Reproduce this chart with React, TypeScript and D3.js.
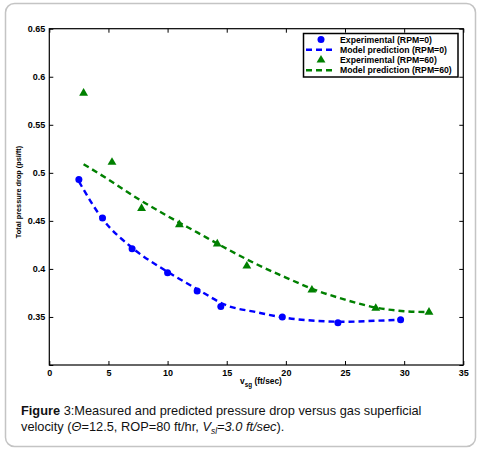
import React, { useEffect, useRef } from 'react';
import * as d3 from 'd3';

// gas superficial velocity (ft/sec) vs total pressure drop (psi/ft)
const vsgExp0 = [2.5, 4.5, 7.0, 10.0, 12.5, 14.5, 19.7, 24.4, 29.7];
const dpExp0 = [0.493, 0.453, 0.421, 0.396, 0.377, 0.361, 0.350, 0.344, 0.347];

const vsgModel0 = [2.5, 4.5, 7, 10, 12.5, 15, 17.5, 20, 22.5, 25, 27.5, 29.7];
const dpModel0 = [0.491, 0.452, 0.422, 0.397, 0.379, 0.362, 0.355, 0.349, 0.346, 0.345, 0.346, 0.347];

const vsgExp60 = [2.9, 5.3, 7.8, 11.0, 14.2, 16.7, 22.2, 27.6, 32.1];
const dpExp60 = [0.583, 0.511, 0.463, 0.446, 0.426, 0.403, 0.378, 0.359, 0.355];

const vsgModel60 = [2.9, 5, 7.5, 10, 12.5, 15, 17.5, 20, 22.5, 25, 27.5, 30, 32.1];
const dpModel60 = [0.509, 0.493, 0.473, 0.455, 0.438, 0.421, 0.405, 0.391, 0.378, 0.368, 0.36, 0.356, 0.355];

const xTicks = [0, 5, 10, 15, 20, 25, 30, 35];
const yTicks = [0.35, 0.4, 0.45, 0.5, 0.55, 0.6, 0.65];
const yTicksAll = [0.3, 0.35, 0.4, 0.45, 0.5, 0.55, 0.6, 0.65];

const legendLabels = [
  'Experimental (RPM=0)',
  'Model prediction (RPM=0)',
  'Experimental (RPM=60)',
  'Model prediction (RPM=60)',
];

const BLUE = '#0000ff';
const GREEN = '#008000';
const FONT = '"Liberation Sans", Arial, Helvetica, sans-serif';

const W = 481;
const H = 458;

const App: React.FC = () => {
  const svgRef = useRef<SVGSVGElement>(null);

  useEffect(() => {
    if (!svgRef.current) return;
    const svg = d3.select(svgRef.current);
    svg.selectAll('*').remove();

    // page frame
    svg.append('rect')
      .attr('x', 5.5).attr('y', 3.5)
      .attr('width', 470).attr('height', 443)
      .attr('rx', 9)
      .attr('fill', '#fff')
      .attr('stroke', '#c4c4c4')
      .attr('stroke-width', 1.5);

    const left = 49.3, right = 463.3, top = 28.7, bottom = 365;
    const x = d3.scaleLinear().domain([0, 35]).range([left, right]);
    const y = d3.scaleLinear().domain([0.3, 0.65]).range([bottom, top]);

    const g = svg.append('g');

    // axes (Matlab style: inward ticks on all sides)
    const axB = g.append('g')
      .attr('transform', `translate(0,${bottom})`)
      .call(d3.axisBottom(x).tickValues(xTicks).tickSizeInner(-4).tickSizeOuter(0).tickPadding(5).tickFormat(d => String(d)));
    const axL = g.append('g')
      .attr('transform', `translate(${left},0)`)
      .call(d3.axisLeft(y).tickValues(yTicksAll).tickSizeInner(-4).tickSizeOuter(0).tickPadding(4)
        .tickFormat(d => (yTicks.includes(+d) ? String(+(+d).toFixed(2)) : '')));
    const axT = g.append('g')
      .attr('transform', `translate(0,${top})`)
      .call(d3.axisTop(x).tickValues(xTicks).tickSizeInner(-4).tickSizeOuter(0).tickFormat(() => ''));
    const axR = g.append('g')
      .attr('transform', `translate(${right},0)`)
      .call(d3.axisRight(y).tickValues(yTicksAll).tickSizeInner(-4).tickSizeOuter(0).tickFormat(() => ''));

    [axB, axL, axT, axR].forEach(a => {
      a.select('.domain').remove();
      a.selectAll('line').attr('stroke', '#000').attr('stroke-width', 1);
      a.selectAll('text')
        .attr('fill', '#000')
        .style('font-family', FONT)
        .style('font-weight', 'bold')
        .style('font-size', '9px');
    });

    g.append('rect')
      .attr('x', left).attr('y', top)
      .attr('width', right - left).attr('height', bottom - top)
      .attr('fill', 'none')
      .attr('stroke', '#000')
      .attr('stroke-width', 1.2);

    // axis titles
    const xt = svg.append('text')
      .attr('x', 261).attr('y', 384)
      .attr('text-anchor', 'middle')
      .style('font-family', FONT).style('font-weight', 'bold').style('font-size', '8.4px');
    xt.append('tspan').text('v');
    xt.append('tspan').attr('dy', 2.5).style('font-size', '6.3px').text('sg');
    xt.append('tspan').attr('dy', -2.5).text(' (ft/sec)');

    svg.append('text')
      .attr('transform', `translate(20.5,192) rotate(-90)`)
      .attr('text-anchor', 'middle')
      .style('font-family', FONT).style('font-weight', 'bold').style('font-size', '7.3px')
      .text('Total pressure drop (psi/ft)');

    // model lines
    const line = d3.line<[number, number]>()
      .x(d => x(d[0]))
      .y(d => y(d[1]))
      .curve(d3.curveMonotoneX);

    const model0 = vsgModel0.map((v, i) => [v, dpModel0[i]] as [number, number]);
    const model60 = vsgModel60.map((v, i) => [v, dpModel60[i]] as [number, number]);

    g.append('path').datum(model60)
      .attr('fill', 'none').attr('stroke', GREEN).attr('stroke-width', 2.4)
      .attr('stroke-dasharray', '6,4').attr('d', line);
    g.append('path').datum(model0)
      .attr('fill', 'none').attr('stroke', BLUE).attr('stroke-width', 2.4)
      .attr('stroke-dasharray', '6,4').attr('d', line);

    // markers
    const tri = d3.symbol().type(d3.symbolTriangle).size(34);
    g.selectAll('.exp60')
      .data(vsgExp60.map((v, i) => [v, dpExp60[i]]))
      .join('path')
      .attr('class', 'exp60')
      .attr('transform', d => `translate(${x(d[0])},${y(d[1])})`)
      .attr('d', tri)
      .attr('fill', GREEN);

    g.selectAll('.exp0')
      .data(vsgExp0.map((v, i) => [v, dpExp0[i]]))
      .join('circle')
      .attr('class', 'exp0')
      .attr('cx', d => x(d[0]))
      .attr('cy', d => y(d[1]))
      .attr('r', 3.5)
      .attr('fill', BLUE);

    // legend
    const lg = svg.append('g');
    lg.append('rect')
      .attr('x', 303.5).attr('y', 33.5)
      .attr('width', 154.5).attr('height', 43.5)
      .attr('fill', '#fff')
      .attr('stroke', '#000')
      .attr('stroke-width', 1.5);
    const rowsY = [39.5, 49.8, 60, 70.2];
    const sx0 = 306, sx1 = 336, sxm = 321;
    lg.append('circle').attr('cx', sxm).attr('cy', rowsY[0]).attr('r', 3.5).attr('fill', BLUE);
    lg.append('line').attr('x1', sx0).attr('x2', sx1).attr('y1', rowsY[1]).attr('y2', rowsY[1])
      .attr('stroke', BLUE).attr('stroke-width', 2.4).attr('stroke-dasharray', '6,4');
    lg.append('path').attr('d', tri).attr('transform', `translate(${sxm},${rowsY[2]})`).attr('fill', GREEN);
    lg.append('line').attr('x1', sx0).attr('x2', sx1).attr('y1', rowsY[3]).attr('y2', rowsY[3])
      .attr('stroke', GREEN).attr('stroke-width', 2.4).attr('stroke-dasharray', '6,4');
    lg.selectAll('.lt')
      .data(legendLabels)
      .join('text')
      .attr('class', 'lt')
      .attr('x', 340)
      .attr('y', (d, i) => rowsY[i])
      .attr('dy', '0.35em')
      .style('font-family', FONT).style('font-weight', 'bold').style('font-size', '8.7px')
      .text(d => d);

    // caption
    const c1 = svg.append('text')
      .attr('x', 21).attr('y', 415)
      .style('font-family', FONT).style('font-size', '12.8px').attr('fill', '#111');
    c1.append('tspan').style('font-weight', 'bold').text('Figure');
    c1.append('tspan').text('  3:Measured and predicted pressure drop versus gas superficial');
    const c2 = svg.append('text')
      .attr('x', 21).attr('y', 431)
      .style('font-family', FONT).style('font-size', '12.8px').attr('fill', '#111');
    c2.append('tspan').text('velocity (');
    c2.append('tspan').style('font-style', 'italic').text('Θ');
    c2.append('tspan').text('=12.5, ROP=80 ft/hr, ');
    c2.append('tspan').style('font-style', 'italic').text('V');
    c2.append('tspan').attr('dy', 3).style('font-style', 'italic').style('font-size', '8.5px').text('sl');
    c2.append('tspan').attr('dy', -3).style('font-style', 'italic').text('=3.0 ft/sec');
    c2.append('tspan').text(').');
  }, []);

  return (
    <svg
      ref={svgRef}
      width={W}
      height={H}
      viewBox={`0 0 ${W} ${H}`}
      style={{ position: 'absolute', left: 0, top: 0, background: '#fff' }}
    />
  );
};

export default App;
